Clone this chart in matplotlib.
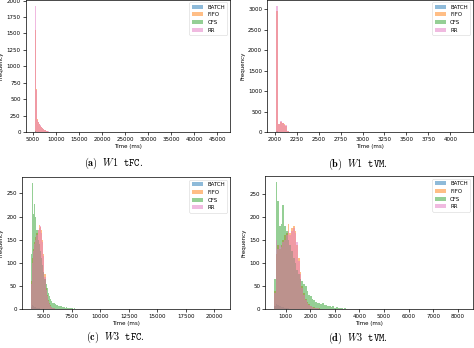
import numpy as np
import matplotlib
matplotlib.use("Agg")
import matplotlib.pyplot as plt

plt.rcParams['mathtext.fontset'] = 'cm'

series = ["BATCH", "FIFO", "CFS", "RR"]
colors = ["#1f77b4", "#ff7f0e", "#2ca02c", "#e377c2"]

# ---- (a) W1 tFC : bins start 5400 ms, width 200 ms
a_start, a_width = 5400, 200
a_batch = [12, 5, 3, 2, 2, 1, 1, 1]
a_fifo = [1550, 660, 250, 195, 150, 125, 95, 78, 62, 45, 38, 26, 22, 14, 11, 7, 6, 3, 2, 2, 1]
a_cfs = [10, 4, 3, 2, 1, 1, 1]
a_rr = [1920, 640, 260, 190, 150, 120, 100, 80, 60, 48, 36, 28, 20, 15, 10, 8, 5, 4, 3, 2, 1]

# ---- (b) W1 tVM : bins start 2020 ms, width 20 ms
b_start, b_width = 2020, 20
b_batch = [15, 5, 4, 3, 2, 1]
b_fifo = [2950, 190, 240, 210, 200, 150, 15, 2]
b_cfs = [12, 6, 4, 3, 2, 1]
b_rr = [3080, 200, 260, 220, 170, 180, 20, 3]

# ---- (c) W3 tFC : bins start 3900 ms, width 100 ms
c_start, c_width = 3900, 100
c_batch = [5, 8, 6, 5, 4, 3, 2, 2, 1, 1]
c_fifo = [60, 110, 130, 145, 155, 165, 172, 182, 178, 170, 150, 120, 75, 45, 30, 20, 12, 8, 5, 3, 2, 1]
c_cfs = [120, 272, 205, 228, 200, 170, 150, 140, 125, 110, 95, 80, 65, 55, 45, 35, 28, 22,
         18, 14, 12, 10, 9, 8, 7, 6, 6, 5, 4, 5, 3, 4, 3, 2, 3, 2, 2, 1, 2, 1, 1, 1, 1]
c_rr = [55, 100, 125, 140, 150, 160, 170, 175, 180, 165, 145, 115, 70, 42, 28, 18, 10, 7, 4, 3, 2, 1]

# ---- (d) W3 tVM : bins start 520 ms, width 70 ms
d_start, d_width = 520, 70
d_batch = [6, 10, 8, 6, 5, 4, 3, 2, 2, 1, 1]
d_fifo = [40, 120, 140, 130, 140, 150, 160, 165, 185, 165, 175, 180, 170, 140, 110, 80, 50,
          35, 22, 15, 10, 7, 5, 4, 3, 2, 2, 1, 1]
d_cfs = [65, 275, 235, 180, 185, 225, 180, 170, 150, 140, 125, 110, 100, 85, 75, 65, 60, 55,
         50, 40, 30, 28, 22, 20, 15, 12, 14, 10, 12, 8, 9, 6, 7, 5, 6, 3, 4, 2, 3, 2, 1, 2, 1]
d_rr = [35, 150, 130, 140, 135, 145, 150, 160, 170, 160, 170, 175, 165, 145, 105, 75, 45,
        30, 20, 12, 8, 6, 4, 3, 2, 2, 1, 1, 1]

panels = [
    dict(start=a_start, width=a_width, data=[a_batch, a_fifo, a_cfs, a_rr],
         xlim=(3410, 47800), xticks=list(range(5000, 45001, 5000)),
         yticks=list(range(0, 2001, 250)),
         pos=[25.5, -0.4, 230, 132], caption=r"$\mathbf{(a)}\ \ \mathit{W1}\ \ \mathtt{tFC.}$",
         cap=(114, 163.5)),
    dict(start=b_start, width=b_width, data=[b_batch, b_fifo, b_cfs, b_rr],
         xlim=(1912, 4258), xticks=list(range(2000, 4001, 250)),
         yticks=list(range(0, 3001, 500)),
         pos=[267, -0.4, 473, 132], caption=r"$\mathbf{(b)}\ \ \mathit{W1}\ \ \mathtt{tVM.}$",
         cap=(357.5, 164)),
    dict(start=c_start, width=c_width, data=[c_batch, c_fifo, c_cfs, c_rr],
         xlim=(3105, 21377), xticks=list(range(5000, 20001, 2500)),
         yticks=list(range(0, 251, 50)),
         pos=[21.7, 177, 230, 309], caption=r"$\mathbf{(c)}\ \ \mathit{W3}\ \ \mathtt{tFC.}$",
         cap=(115.5, 337.5)),
    dict(start=d_start, width=d_width, data=[d_batch, d_fifo, d_cfs, d_rr],
         xlim=(158, 8623), xticks=list(range(1000, 8001, 1000)),
         yticks=list(range(0, 251, 50)),
         pos=[265, 176, 473, 309], caption=r"$\mathbf{(d)}\ \ \mathit{W3}\ \ \mathtt{tVM.}$",
         cap=(357.5, 338)),
]

W, H = 474, 348
fig = plt.figure(figsize=(W / 100, H / 100), dpi=100)

for p in panels:
    x0, y0, x1, y1 = p["pos"]
    ax = fig.add_axes([x0 / W, 1 - y1 / H, (x1 - x0) / W, (y1 - y0) / H])
    for name, col, counts in zip(series, colors, p["data"]):
        n = len(counts)
        edges = p["start"] + p["width"] * np.arange(n + 1)
        centers = edges[:-1] + p["width"] / 2
        ax.hist(centers, bins=edges, weights=counts, histtype="stepfilled",
                color=col, alpha=0.5, label=name, linewidth=0)
    ax.set_xlim(*p["xlim"])
    ax.set_ylim(bottom=0)
    ax.set_xticks(p["xticks"])
    ax.set_yticks(p["yticks"])
    ax.tick_params(labelsize=4, length=2, width=0.5, pad=1.5)
    for s in ax.spines.values():
        s.set_linewidth(0.5)
    ax.set_xlabel("Time (ms)", fontsize=4, labelpad=1.5)
    ax.set_ylabel("Frequency", fontsize=4, labelpad=2)
    ax.legend(loc="upper right", fontsize=4, frameon=True, framealpha=0.8,
              edgecolor="#cccccc", fancybox=True, borderpad=0.4, labelspacing=0.5,
              handlelength=2.0, handletextpad=0.8).get_frame().set_linewidth(0.4)
    fig.text(p["cap"][0] / W, 1 - p["cap"][1] / H, p["caption"], fontsize=7.3,
             ha="center", va="center")

fig.savefig("out.png", dpi=100)
